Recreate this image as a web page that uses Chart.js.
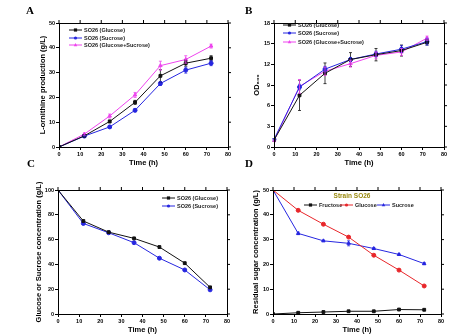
<!DOCTYPE html>
<html>
<head>
<meta charset="utf-8">
<script src="https://cdn.jsdelivr.net/npm/chart.js@4.4.0/dist/chart.umd.min.js"></script>
<style>
  body { margin: 0; background: #fff; }
  #wrap { position: relative; width: 474px; height: 334px; }
  .panel { position: absolute; width: 237px; height: 167px; }
  .letter { position: absolute; font: bold 11px "Liberation Serif", serif; color: #000; }
</style>
</head>
<body>
<div id="wrap">
  <div class="panel" style="left:0;top:0"><canvas id="cA"></canvas></div>
  <div class="panel" style="left:237px;top:0"><canvas id="cB"></canvas></div>
  <div class="panel" style="left:0;top:167px"><canvas id="cC"></canvas></div>
  <div class="panel" style="left:237px;top:167px"><canvas id="cD"></canvas></div>
  <div class="letter" style="left:26px;top:4px">A</div>
  <div class="letter" style="left:245px;top:4px">B</div>
  <div class="letter" style="left:27px;top:157px">C</div>
  <div class="letter" style="left:245px;top:157px">D</div>
</div>
<script>
const time = [0, 12, 24, 36, 48, 60, 72];
const xTicks = [0, 10, 20, 30, 40, 50, 60, 70, 80];

// A: L-ornithine production (g/L)
const ornGlucose = [0, 4.5, 10.3, 18.0, 28.7, 33.8, 35.8];
const ornSucrose = [0, 4.4, 8.1, 14.8, 25.6, 31.0, 33.8];
const ornMix = [0, 5.2, 12.5, 21.0, 32.8, 35.3, 40.7];
const ornGlucoseErr = [0, 0.3, 0.5, 0.8, 2.5, 1.2, 1.0];
const ornSucroseErr = [0, 0.3, 0.5, 0.6, 0.8, 1.2, 1.0];
const ornMixErr = [0, 0.4, 0.8, 1.0, 1.8, 1.5, 0.8];

// B: OD600
const odGlucose = [1.0, 7.5, 10.7, 12.7, 13.4, 14.0, 15.2];
const odSucrose = [1.1, 8.7, 11.3, 12.7, 13.5, 14.2, 15.3];
const odMix = [0.9, 8.8, 11.0, 12.1, 13.3, 13.8, 15.8];
const odGlucoseErr = [0.2, 2.2, 1.5, 1.0, 0.9, 0.8, 0.4];
const odSucroseErr = [0.1, 0.4, 0.4, 0.3, 0.4, 0.5, 0.5];
const odMixErr = [0.1, 1.0, 0.6, 0.5, 0.5, 0.5, 0.3];

// C: glucose or sucrose concentration (g/L)
const concGlucose = [100, 75, 66, 61, 54, 41, 21.5];
const concSucrose = [100, 73, 65.5, 57.5, 45, 35.5, 19.5];

// D: residual sugar concentration (g/L)
const resFructose = [0, 0.5, 0.8, 1.1, 1.1, 1.8, 1.7];
const resGlucose = [50, 41.8, 36.2, 31.0, 23.7, 17.7, 11.3];
const resSucrose = [50, 32.5, 29.5, 28.5, 26.4, 24.0, 20.3];
const resSucroseErr = [0, 0.5, 0.3, 1.0, 0.4, 0.3, 0.4];

const BLACK = '#111111', BLUE = '#2626e0', MAGENTA = '#ee44ee', RED = '#e8262a';
const tickFont = { family: 'Liberation Sans', size: 5.5, weight: 'bold' };
const titleFont = { family: 'Liberation Sans', size: 7.5, weight: 'bold' };

function series(label, data, color, shape, err) {
  return {
    label: label,
    data: data.map((v, i) => ({ x: time[i], y: v })),
    errors: err,
    borderColor: color,
    backgroundColor: color,
    borderWidth: 1,
    pointStyle: shape,
    pointRadius: 2,
    pointHoverRadius: 2,
    tension: 0
  };
}

function drawMarker(ctx, shape, x, y, r, color) {
  ctx.fillStyle = color;
  ctx.beginPath();
  if (shape === 'rect') ctx.rect(x - r, y - r, 2 * r, 2 * r);
  else if (shape === 'triangle') { ctx.moveTo(x, y - r * 1.2); ctx.lineTo(x + r * 1.1, y + r * 0.8); ctx.lineTo(x - r * 1.1, y + r * 0.8); ctx.closePath(); }
  else ctx.arc(x, y, r, 0, Math.PI * 2);
  ctx.fill();
}

const extras = {
  id: 'extras',
  afterDatasetsDraw(chart) {
    const ctx = chart.ctx, xs = chart.scales.x, ys = chart.scales.y;
    ctx.save();
    chart.data.datasets.forEach(ds => {
      if (!ds.errors) return;
      ctx.strokeStyle = ds.borderColor;
      ctx.lineWidth = 0.8;
      ds.data.forEach((p, i) => {
        const e = ds.errors[i];
        if (!e) return;
        const px = xs.getPixelForValue(p.x);
        const top = ys.getPixelForValue(p.y + e), bot = ys.getPixelForValue(p.y - e);
        ctx.beginPath();
        ctx.moveTo(px, top); ctx.lineTo(px, bot);
        ctx.moveTo(px - 1.5, top); ctx.lineTo(px + 1.5, top);
        ctx.moveTo(px - 1.5, bot); ctx.lineTo(px + 1.5, bot);
        ctx.stroke();
      });
    });
    ctx.restore();
  },
  afterDraw(chart) {
    const ctx = chart.ctx, a = chart.chartArea;
    const o = chart.options.plugins.extras || {};
    ctx.save();
    ctx.strokeStyle = '#000';
    ctx.lineWidth = 1;
    ctx.strokeRect(a.left + 0.5, a.top + 0.5, a.right - a.left, a.bottom - a.top);
    // mirrored ticks on top and right
    const xs = chart.scales.x, ys = chart.scales.y;
    ctx.beginPath();
    xs.ticks.forEach(t => { const px = xs.getPixelForValue(t.value); ctx.moveTo(px, a.top); ctx.lineTo(px, a.top - 3); });
    ys.ticks.forEach(t => { const py = ys.getPixelForValue(t.value); ctx.moveTo(a.right, py); ctx.lineTo(a.right + 3, py); });
    ctx.stroke();
    // legend
    ctx.font = 'bold 5.5px "Liberation Sans"';
    ctx.textBaseline = 'middle';
    chart.data.datasets.forEach((ds, i) => {
      const pos = o.legend[i];
      const x = a.left + pos[0], y = a.top + pos[1];
      ctx.strokeStyle = ds.borderColor;
      ctx.beginPath(); ctx.moveTo(x, y); ctx.lineTo(x + 13, y); ctx.stroke();
      drawMarker(ctx, ds.pointStyle, x + 6.5, y, 1.6, ds.borderColor);
      ctx.fillStyle = '#222';
      ctx.fillText(ds.label, x + 15, y + 0.3);
    });
    if (o.heading) {
      ctx.font = 'bold 6.5px "Liberation Sans"';
      ctx.fillStyle = '#9a8a10';
      ctx.textAlign = 'center';
      ctx.fillText(o.heading[0], a.left + o.heading[1], a.top + o.heading[2]);
    }
    ctx.restore();
  }
};

function makePanel(id, datasets, yMax, yStep, yTitle, padL, yW, padR, legend, heading) {
  new Chart(document.getElementById(id), {
    type: 'line',
    data: { datasets: datasets },
    plugins: [extras],
    options: {
      responsive: false,
      animation: false,
      devicePixelRatio: 1,
      layout: { padding: { left: padL, right: padR, top: 23, bottom: 0 } },
      plugins: {
        legend: { display: false },
        tooltip: { enabled: false },
        extras: { legend: legend, heading: heading }
      },
      scales: {
        x: {
          type: 'linear', min: 0, max: 80,
          afterBuildTicks: s => { s.ticks = xTicks.map(v => ({ value: v })); },
          afterFit: s => { s.height = 20; },
          grid: { display: true, drawOnChartArea: false, tickLength: 3, color: '#000' },
          border: { display: true, color: '#000' },
          ticks: { font: tickFont, color: '#000', padding: 1, maxRotation: 0 },
          title: { display: true, text: 'Time (h)', font: titleFont, color: '#000', padding: { top: 0, bottom: 0 } }
        },
        y: {
          min: 0, max: yMax,
          afterFit: s => { s.width = yW; },
          grid: { display: true, drawOnChartArea: false, tickLength: 3, color: '#000' },
          border: { display: true, color: '#000' },
          ticks: { stepSize: yStep, font: tickFont, color: '#000', padding: 1 },
          title: { display: true, text: yTitle, font: titleFont, color: '#000', padding: { top: 2, bottom: 2 } }
        }
      }
    }
  });
}

function sizeCanvas(id) { const c = document.getElementById(id); c.width = 237; c.height = 167; c.style.width = '237px'; c.style.height = '167px'; }
['cA', 'cB', 'cC', 'cD'].forEach(sizeCanvas);

makePanel('cA', [
  series('SO26 (Glucose)', ornGlucose, BLACK, 'rect', ornGlucoseErr),
  series('SO26 (Sucrose)', ornSucrose, BLUE, 'circle', ornSucroseErr),
  series('SO26 (Glucose+Sucrose)', ornMix, MAGENTA, 'triangle', ornMixErr)
], 50, 10, 'L-ornithine production (g/L)', 36, 23, 9, [[10, 7], [10, 15], [10, 22]]);

makePanel('cB', [
  series('SO26 (Glucose)', odGlucose, BLACK, 'rect', odGlucoseErr),
  series('SO26 (Sucrose)', odSucrose, BLUE, 'circle', odSucroseErr),
  series('SO26 (Glucose+Sucrose)', odMix, MAGENTA, 'triangle', odMixErr)
], 18, 3, 'OD\u2086\u2080\u2080', 13, 24, 30, [[9, 2], [9, 10], [9, 19]]);

makePanel('cC', [
  series('SO26 (Glucose)', concGlucose, BLACK, 'rect', null),
  series('SO26 (Sucrose)', concSucrose, BLUE, 'circle', null)
], 100, 20, 'Glucose or Sucrose concentration (g/L)', 32, 26, 10, [[104, 8], [104, 16]]);

makePanel('cD', [
  series('Fructose', resFructose, BLACK, 'rect', null),
  series('Glucose', resGlucose, RED, 'circle', null),
  series('Sucrose', resSucrose, BLUE, 'triangle', resSucroseErr)
], 50, 10, 'Residual sugar concentration (g/L)', 12, 24, 33, [[31, 15], [67, 15], [104, 15]], ['Strain SO26', 79, 6]);
</script>
</body>
</html>
